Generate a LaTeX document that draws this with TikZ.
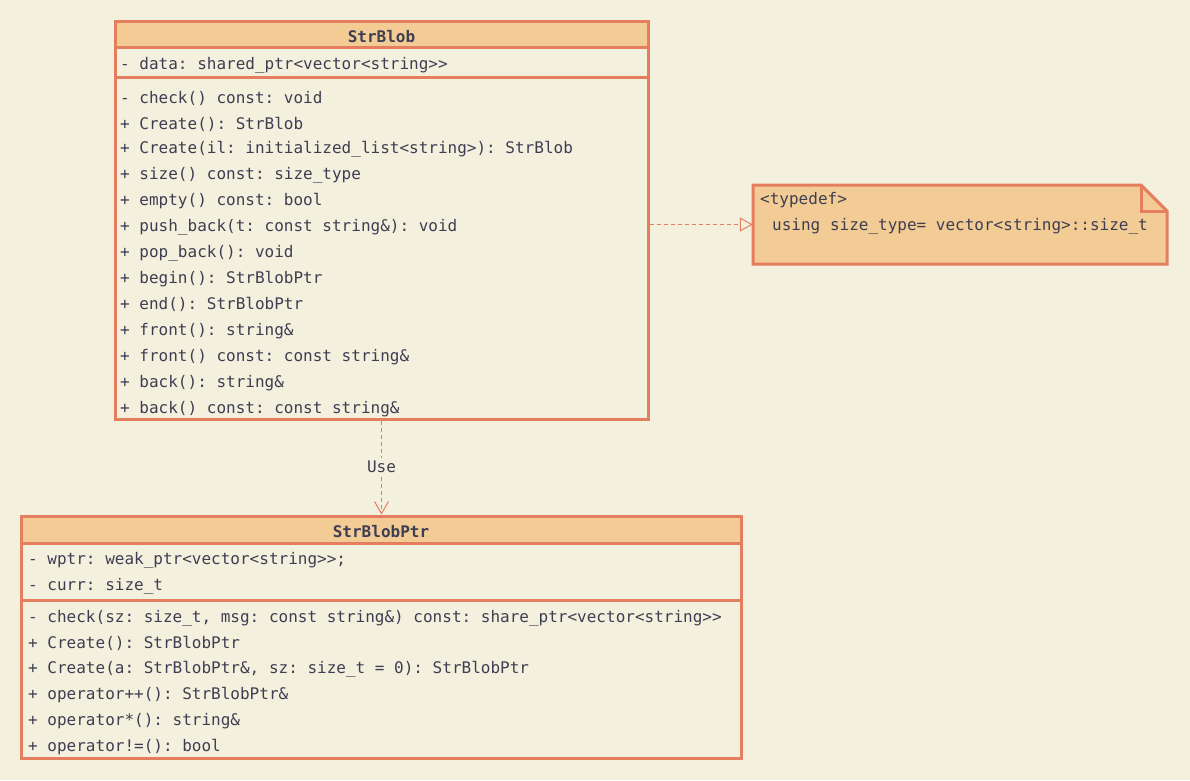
\documentclass[tikz,border=0pt]{standalone}
\usepackage{fontspec}
\newfontfamily\mono{DejaVu Sans Mono}
\usetikzlibrary{arrows.meta}
\definecolor{bg}{RGB}{244,240,222}
\definecolor{hdr}{RGB}{242,204,148}
\definecolor{brd}{RGB}{229,125,95}
\definecolor{txt}{RGB}{62,62,82}
\frenchspacing
\begin{document}
\begin{tikzpicture}[x=1pt,y=-1pt,
  row/.style={anchor=west,inner sep=0pt,text height=12pt,text depth=3pt,font=\mono\fontsize{16}{18}\selectfont\frenchspacing,text=txt},
  title/.style={inner sep=0pt,text height=12pt,text depth=3pt,font=\mono\bfseries\fontsize{16}{18}\selectfont,text=txt},
  classbox/.style={draw=brd,line width=3pt,fill=bg,inner sep=0pt},
  frame/.style={draw=brd,line width=3pt,inner sep=0pt},
  sep/.style={draw=brd,line width=3pt},
  conn/.style={draw=brd,line width=1pt,dash pattern=on 4pt off 3pt}]
\useasboundingbox[fill=bg] (0,0) rectangle (1190,780);

% ---------- StrBlob ----------
\node[classbox,minimum width=533pt,minimum height=398pt] (strblob) at (381.5,220) {};
\fill[hdr] (115,21) rectangle (648,47);
\draw[sep] (115,47) -- (648,47);
\draw[sep] (115,77) -- (648,77);
\node[frame,minimum width=533pt,minimum height=398pt] at (381.5,220) {};
\node[title] (t1) at (381.5,38) {StrBlob};
\node[row] (a1) at (120,65) {- data: shared\_ptr<vector<string>>};
\node[row] (m1) at (120,99) {- check() const: void};
\node[row] (m2) at (120,125) {+ Create(): StrBlob};
\node[row] (m3) at (120,149) {+ Create(il: initialized\_list<string>): StrBlob};
\node[row] (m4) at (120,175) {+ size() const: size\_type};
\node[row] (m5) at (120,201) {+ empty() const: bool};
\node[row] (m6) at (120,227) {+ push\_back(t: const string\&): void};
\node[row] (m7) at (120,253) {+ pop\_back(): void};
\node[row] (m8) at (120,279) {+ begin(): StrBlobPtr};
\node[row] (m9) at (120,305) {+ end(): StrBlobPtr};
\node[row] (m10) at (120,331) {+ front(): string\&};
\node[row] (m11) at (120,357) {+ front() const: const string\&};
\node[row] (m12) at (120,383) {+ back(): string\&};
\node[row] (m13) at (120,409) {+ back() const: const string\&};

% ---------- Note ----------
\node[inner sep=0pt,minimum width=414pt,minimum height=79pt] (note) at (960,224.5) {};
\draw[draw=brd,line width=3pt,fill=hdr,line join=miter]
  (753,185) -- (1141,185) -- (1167,211) -- (1167,264) -- (753,264) -- cycle;
\draw[draw=brd,line width=3pt] (1141,185) -- (1141,211) -- (1167,211);
\node[row] (n1) at (760,200) {<typedef>};
\node[row] (n2) at (772,226) {using size\_type= vector<string>::size\_t};

% ---------- StrBlobPtr ----------
\node[classbox,minimum width=720pt,minimum height=242pt] (strblobptr) at (381,637) {};
\fill[hdr] (21,516) rectangle (741,543);
\draw[sep] (21,543) -- (741,543);
\draw[sep] (21,600) -- (741,600);
\node[frame,minimum width=720pt,minimum height=242pt] at (381,637) {};
\node[title] (t2) at (381,533) {StrBlobPtr};
\node[row] (b1) at (28,560) {- wptr: weak\_ptr<vector<string>>;};
\node[row] (b2) at (28,586) {- curr: size\_t};
\node[row] (p1) at (28,618) {- check(sz: size\_t, msg: const string\&) const: share\_ptr<vector<string>>};
\node[row] (p2) at (28,644) {+ Create(): StrBlobPtr};
\node[row] (p3) at (28,669) {+ Create(a: StrBlobPtr\&, sz: size\_t = 0): StrBlobPtr};
\node[row] (p4) at (28,695) {+ operator++(): StrBlobPtr\&};
\node[row] (p5) at (28,721) {+ operator*(): string\&};
\node[row] (p6) at (28,747) {+ operator!=(): bool};

% ---------- Connectors ----------
\draw[conn,-{Triangle[open,length=13pt,width=14pt,line width=1pt]}]
  (strblob.east |- note.west) -- (note.west);
\draw[conn,-{Straight Barb[length=12pt,width=14pt,line width=1pt]}]
  (strblob.south) -- (strblob.south |- strblobptr.north)
  node[pos=0.5,fill=bg,inner sep=2pt,text height=12pt,text depth=3pt,font=\mono\fontsize{16}{18}\selectfont,text=txt] (use) {Use};
\end{tikzpicture}
\end{document}
